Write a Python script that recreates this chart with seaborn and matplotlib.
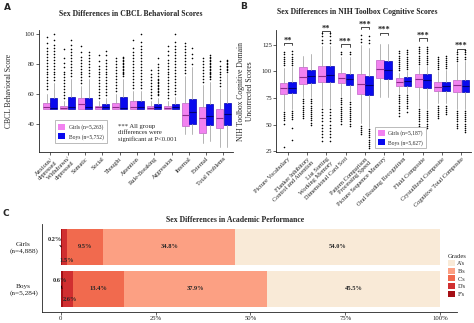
import numpy as np
import pandas as pd
import matplotlib
matplotlib.use("Agg")
import matplotlib.pyplot as plt
from matplotlib.patches import Patch
import seaborn as sns

# ---------------- Panel A: CBCL behavioural T-scores ----------------
cbcl_labels = ["Anxious/\ndepressed", "Withdrawn/\ndepressed", "Somatic", "Social",
               "Thought", "Attention", "Rule-Breaking", "Aggression", "Internal",
               "External", "Total Problems"]

cbcl_g_whislo = [50, 50, 50, 50, 50, 50, 50, 50, 33, 27, 24]
cbcl_g_q1 = [50, 50, 50, 50, 50, 50, 50, 50, 38.5, 34, 37]
cbcl_g_med = [51, 50.5, 53, 51, 51, 51, 50.5, 50.5, 45.5, 43.5, 43.5]
cbcl_g_q3 = [54, 52, 57, 52, 54, 55, 52, 52, 53.5, 51, 50]
cbcl_g_whishi = [60, 55, 65, 55, 60, 62, 55, 55, 72, 66, 63]
cbcl_g_fliers = [
    [63, 65, 67, 69, 71, 73, 75, 77, 79, 81, 83, 85, 87, 89, 91, 94, 98],
    [57, 59, 61, 63, 65, 67, 69, 71, 73, 75, 78, 81, 84, 90],
    [67, 69, 71, 73, 75, 77, 79, 81, 83, 85, 88, 92],
    [57, 59, 61, 63, 65, 67, 69, 71, 73, 75, 77, 79, 82, 86],
    [62, 64, 66, 68, 70, 72, 74, 76, 78, 80, 82, 84],
    [64, 66, 68, 70, 72, 74, 76, 78, 80, 82, 84, 86, 88, 91, 96],
    [57, 59, 61, 63, 65, 67, 69, 71, 73, 76],
    [57, 59, 61, 63, 65, 67, 69, 71, 73, 75, 77, 79, 81, 83, 86, 89, 92],
    [74, 76, 78, 80, 82, 84, 86, 88, 90, 92, 94],
    [68, 70, 72, 74, 76, 78, 80, 82, 84],
    [65, 67, 69, 71, 73, 75, 77, 79, 82],
]

cbcl_b_whislo = [50, 50, 50, 50, 50, 50, 50, 50, 33, 28, 24]
cbcl_b_q1 = [50, 50, 50, 50, 50, 50, 50, 50, 39.5, 39, 39]
cbcl_b_med = [50.5, 51, 51, 51, 50.5, 51, 51, 51, 47.5, 45, 46.5]
cbcl_b_q3 = [57, 58, 57, 53, 58, 55, 53, 53, 56.5, 53, 54]
cbcl_b_whishi = [67, 70, 70, 57, 70, 62, 57, 58, 78, 68, 73]
cbcl_b_fliers = [
    [69, 71, 73, 75, 77, 79, 81, 83, 85, 87, 89, 91, 93, 96, 100],
    [72, 74, 76, 78, 80, 82, 84, 86, 88, 90, 93, 96],
    [72, 74, 76, 78, 80, 82, 84, 86, 88],
    [59, 61, 63, 65, 67, 69, 71, 73, 75, 77, 79, 81, 83, 86, 89],
    [72, 73, 74, 75, 76, 77, 78, 79, 80, 81, 82, 83, 84, 85],
    [64, 66, 68, 70, 72, 74, 76, 78, 80, 82, 84, 86, 88, 90, 92, 95, 100],
    [59, 60, 61, 62, 63, 64, 65, 66, 67, 68, 69, 70, 72, 74, 76, 78, 80, 84],
    [60, 62, 64, 66, 68, 70, 72, 74, 76, 78, 80, 82, 84, 86, 88, 90, 92, 95, 100],
    [80, 84, 87, 91],
    [70, 71, 72, 73, 74, 75, 76, 77, 78, 79, 80, 81, 82, 83, 84, 85, 86],
    [75, 76, 77, 78, 79, 80, 81, 82, 83],
]

# ---------------- Panel B: NIH Toolbox cognitive scores ----------------
cog_labels = ["Picture Vocabulary", "Flanker Inhibitory\nControl and Attention",
              "List Sorting\nWorking Memory", "Dimensional Card Sort",
              "Pattern Comparison\nProcessing Speed", "Picture Sequence Memory",
              "Oral Reading Recognition", "Fluid Composite",
              "Crystallized Composite", "Cognitive Total Composite"]

cog_g_whislo = [64, 76, 67, 77, 52, 76, 80, 67, 70, 65]
cog_g_q1 = [79, 88.5, 90, 89, 79, 93.7, 86, 85.3, 81.3, 80.6]
cog_g_med = [84, 95, 96, 94, 88.5, 102.5, 90.5, 92.5, 85.3, 87]
cog_g_q3 = [89, 104, 105, 99, 98, 111, 94, 97.8, 90, 92.2]
cog_g_whishi = [103, 115, 124, 114, 125, 126, 99, 105, 100, 108]
cog_g_fliers = [
    [106, 108, 110, 112, 114, 116, 118, 62, 60, 58, 56, 54, 51, 29],
    [74, 72, 70, 68, 66, 64, 62, 60, 58, 56],
    [127, 130, 133, 136, 65, 62, 59, 56, 53, 50, 47, 44, 41, 38, 35],
    [116, 118, 75, 73, 71, 69, 67, 65, 63, 61, 59, 57, 55, 53, 51],
    [128, 131, 134, 49, 47, 45, 43, 41],
    [],
    [101, 103, 105, 107, 109, 111, 113, 115, 117, 119,
     78, 76, 74, 72, 70, 68, 66, 64, 61, 58],
    [107, 109, 111, 113, 115, 117, 119, 121, 123,
     65, 63, 61, 59, 57, 55, 53, 51, 49],
    [102, 104, 106, 108, 110, 112, 114, 68, 66, 64, 62, 60, 58, 56],
    [110, 112, 114, 116, 118, 63, 61, 59, 57, 55, 53, 51, 49, 47],
]

cog_b_whislo = [65, 76, 67, 73, 48, 76, 80, 65, 70, 65]
cog_b_q1 = [80, 89, 90, 87, 77.5, 93, 86.5, 84, 81.5, 80.6]
cog_b_med = [84.5, 95.5, 97, 93, 87, 101.5, 91, 91.7, 86, 86.5]
cog_b_q3 = [90, 101, 105.5, 98, 95.5, 110, 95, 97.8, 90.5, 92]
cog_b_whishi = [104, 116, 124, 114, 122, 126, 100, 105, 101, 110]
cog_b_fliers = [
    [106, 108, 110, 112, 114, 116, 119, 63, 61, 59, 57, 55, 47, 36],
    [74, 72, 70, 68, 66, 64, 62, 60, 58, 56, 54, 52, 50],
    [127, 130, 133, 136, 65, 62, 59, 56, 53, 50, 47, 44, 41, 38, 35],
    [116, 118, 71, 69, 67, 65, 63, 61, 59, 57, 55, 53, 51, 49],
    [127, 130, 133, 46, 44, 42, 40, 38, 36, 34, 32, 30, 28],
    [],
    [102, 104, 106, 108, 110, 112, 114, 116, 118, 120,
     78, 76, 74, 72, 70, 68, 66, 62],
    [107, 109, 111, 113, 115, 117, 119, 121, 123,
     63, 61, 59, 57, 55, 53, 51, 49, 47],
    [103, 105, 107, 109, 111, 113, 115, 68, 66, 64, 62, 60],
    [112, 114, 116, 118, 120, 63, 61, 59, 57, 55, 53, 51, 49, 47, 45, 43],
]
cog_sig = ["**", "", "**", "***", "***", "***", "", "***", "", "***"]

# ---------------- Panel C: academic grades ----------------
grade_groups = ["Girls\n(n=4,888)", "Boys\n(n=5,284)"]
grade_names = ["F's", "D's", "C's", "B's", "A's"]
girls_pct = [0.2, 1.5, 9.5, 34.8, 54.0]
boys_pct = [0.6, 2.6, 13.4, 37.9, 45.5]

# ---------------- styling ----------------
PINK, PINK_EDGE, PINK_MED = "#F282F0", "#C060C8", "#8A2C8A"
BLUE, BLUE_EDGE, BLUE_MED = "#0A0AEE", "#0000B0", "#000070"
WHISK = "#A8A8A8"
grade_colors = {"A's": "#F9EAD7", "B's": "#FCA083", "C's": "#F16A4E",
                "D's": "#D02F30", "F's": "#A50F15"}

sns.set_theme(style="ticks")
plt.rcParams["font.family"] = ["Liberation Serif", "DejaVu Serif"]
plt.rcParams.update({
    "axes.linewidth": 0.6, "axes.edgecolor": "#222222",
    "xtick.major.width": 0.5, "ytick.major.width": 0.5,
    "xtick.major.size": 2, "ytick.major.size": 2,
    "xtick.major.pad": 1, "ytick.major.pad": 1,
    "xtick.color": "#222222", "ytick.color": "#222222",
})

fig = plt.figure(figsize=(4.74, 3.23), dpi=100)
axA = fig.add_axes([0.0823, 0.5285, 0.4093, 0.3786])
axB = fig.add_axes([0.5823, 0.5285, 0.4114, 0.3786])
axC = fig.add_axes([0.0892, 0.035, 0.875, 0.2715])


def box_stats(lo, q1, med, q3, hi, fl):
    return [dict(whislo=a, q1=b, med=c, q3=d, whishi=e, fliers=np.array(f, dtype=float))
            for a, b, c, d, e, f in zip(lo, q1, med, q3, hi, fl)]


def draw_boxes(ax, stats, pos, face, edge, medc):
    ax.bxp(stats, positions=pos, widths=0.4, patch_artist=True, showcaps=False,
           manage_ticks=False,
           boxprops=dict(facecolor=face, edgecolor=edge, linewidth=0.5),
           medianprops=dict(color=medc, linewidth=0.8),
           whiskerprops=dict(color=WHISK, linewidth=0.6),
           flierprops=dict(marker="o", markersize=1.15, markerfacecolor="black",
                           markeredgewidth=0))


def style_box_axes(ax, labels):
    sns.despine(ax=ax)
    ax.set_xticks(np.arange(len(labels)))
    ax.set_xticklabels(labels, rotation=45, ha="right", rotation_mode="anchor",
                       fontsize=4.5)
    ax.tick_params(axis="y", labelsize=4.8)


# ---- Panel A ----
xa = np.arange(len(cbcl_labels))
draw_boxes(axA, box_stats(cbcl_g_whislo, cbcl_g_q1, cbcl_g_med, cbcl_g_q3,
                          cbcl_g_whishi, cbcl_g_fliers), xa - 0.21, PINK, PINK_EDGE, PINK_MED)
draw_boxes(axA, box_stats(cbcl_b_whislo, cbcl_b_q1, cbcl_b_med, cbcl_b_q3,
                          cbcl_b_whishi, cbcl_b_fliers), xa + 0.21, BLUE, BLUE_EDGE, BLUE_MED)
axA.set_xlim(-0.65, 10.55)
axA.set_ylim(20.7, 102.9)
axA.set_yticks([40, 60, 80, 100])
style_box_axes(axA, cbcl_labels)
axA.set_ylabel("CBCL Behavioral Score", fontsize=5.5)
axA.yaxis.set_label_coords(-0.135, 0.5)
legA = axA.legend(handles=[Patch(facecolor=PINK, edgecolor="none", label="Girls (n=5,263)"),
                           Patch(facecolor=BLUE, edgecolor="none", label="Boys (n=5,752)")],
                  loc="upper left", bbox_to_anchor=(0.11, 0.636),
                  bbox_transform=fig.transFigure, fontsize=4, frameon=True,
                  fancybox=False, edgecolor="#888888", handlelength=1.3,
                  handleheight=1.3, borderpad=0.6, labelspacing=0.6, handletextpad=0.6)
legA.get_frame().set_linewidth(0.5)
fig.text(0.249, 0.617, "*** All group\ndifferences were\nsignificant at P<0.001",
         fontsize=4.8, va="top", ha="left", linespacing=1.3)

# ---- Panel B ----
xb = np.arange(len(cog_labels))
draw_boxes(axB, box_stats(cog_g_whislo, cog_g_q1, cog_g_med, cog_g_q3,
                          cog_g_whishi, cog_g_fliers), xb - 0.21, PINK, PINK_EDGE, PINK_MED)
draw_boxes(axB, box_stats(cog_b_whislo, cog_b_q1, cog_b_med, cog_b_q3,
                          cog_b_whishi, cog_b_fliers), xb + 0.21, BLUE, BLUE_EDGE, BLUE_MED)
axB.set_xlim(-0.6, 9.5)
axB.set_ylim(24, 139)
axB.set_yticks([25, 50, 75, 100, 125])
style_box_axes(axB, cog_labels)
axB.set_ylabel("NIH Toolbox Cognitive Domain\nUncorrected Scores", fontsize=5.5,
               linespacing=1.1)
axB.yaxis.set_label_coords(-0.115, 0.5)

# significance brackets above each pair
bracket_y = [127, None, 138, 125.5, 142, 136.5, None, 131.5, None, 121.5]
for i, (mark, yb) in enumerate(zip(cog_sig, bracket_y)):
    if not mark:
        continue
    axB.plot([i - 0.21, i - 0.21, i + 0.21, i + 0.21], [yb - 2.5, yb, yb, yb - 2.5],
             color="black", lw=0.5, clip_on=False)
    axB.text(i, yb - 1.5, mark, ha="center", va="bottom", fontsize=6,
             fontweight="bold", clip_on=False)

legB = axB.legend(handles=[Patch(facecolor=PINK, edgecolor="none", label="Girls (n=5,187)"),
                           Patch(facecolor=BLUE, edgecolor="none", label="Boys (n=5,627)")],
                  loc="upper left", bbox_to_anchor=(0.785, 0.614),
                  bbox_transform=fig.transFigure, fontsize=4, frameon=True,
                  fancybox=False, edgecolor="#888888", handlelength=1.3,
                  handleheight=1.3, borderpad=0.5, labelspacing=0.5, handletextpad=0.6)
legB.get_frame().set_linewidth(0.5)

# ---- Panel C: stacked horizontal bars ----
pct = pd.DataFrame({"girls": girls_pct, "boys": boys_pct}, index=grade_names) / 100.0
cum = pct.cumsum()
for g in reversed(grade_names):
    sns.barplot(x=[cum.loc[g, "girls"], cum.loc[g, "boys"]], y=grade_groups,
                orient="h", color=grade_colors[g], saturation=1, width=0.86,
                linewidth=0, ax=axC)
axC.set_ylim(1.55, -0.55)
axC.set_xlim(-0.049, 1.045)
axC.set_xticks([0, 0.25, 0.5, 0.75, 1.0])
axC.set_xticklabels(["0", "25%", "50%", "75%", "100%"], fontsize=4.8)
axC.tick_params(axis="y", labelsize=5.2, length=0, pad=3)
axC.set_xlabel("")
axC.set_ylabel("")
for t in axC.get_yticklabels():
    t.set_multialignment("center")
sns.despine(ax=axC)

# percentage labels
small_offsets = {("girls", "F's"): (-6, 7.5), ("girls", "D's"): (2, -13.5),
                 ("boys", "F's"): (-2, 8.5), ("boys", "D's"): (2, -11)}
for row, col in enumerate(["girls", "boys"]):
    for g in grade_names:
        val = pct.loc[g, col]
        xc = cum.loc[g, col] - val / 2
        label = f"{val * 100:.1f}%"
        if (col, g) in small_offsets:
            dx, dy = small_offsets[(col, g)]
            arrow = dict(arrowstyle="-", lw=0.6, color="black",
                         shrinkA=0, shrinkB=0) if g == "F's" else None
            axC.annotate(label, xy=(xc, row), xytext=(dx, dy),
                         textcoords="offset pixels", ha="center", va="center",
                         fontsize=4.6, fontweight="bold", arrowprops=arrow)
        else:
            axC.text(xc, row, label, ha="center", va="center", fontsize=4.6,
                     fontweight="bold")

legC = fig.legend(handles=[Patch(facecolor=grade_colors[g], edgecolor="none", label=g)
                           for g in reversed(grade_names)],
                  title="Grades", loc="upper left", bbox_to_anchor=(0.945, 0.215),
                  fontsize=4.5, title_fontsize=4.8, frameon=False, handlelength=1.1,
                  handleheight=1.1, labelspacing=0.25, handletextpad=0.4,
                  borderpad=0, borderaxespad=0)
legC._legend_box.align = "left"

# ---- titles and panel letters ----
fig.text(0.276, 0.957, "Sex Differences in CBCL Behavioral Scores", ha="center",
         va="center", fontsize=5.6, fontweight="bold")
fig.text(0.753, 0.962, "Sex Differences in NIH Toolbox Cognitive Scores", ha="center",
         va="center", fontsize=5.6, fontweight="bold")
fig.text(0.496, 0.318, "Sex Differences in Academic Performance", ha="center",
         va="center", fontsize=5.6, fontweight="bold")
for x, y, letter in [(0.008, 0.978, "A"), (0.506, 0.981, "B"), (0.006, 0.338, "C")]:
    fig.text(x, y, letter, ha="left", va="center", fontsize=6.5, fontweight="bold",
             family=["DejaVu Sans"])

fig.savefig("out.png", dpi=100)
